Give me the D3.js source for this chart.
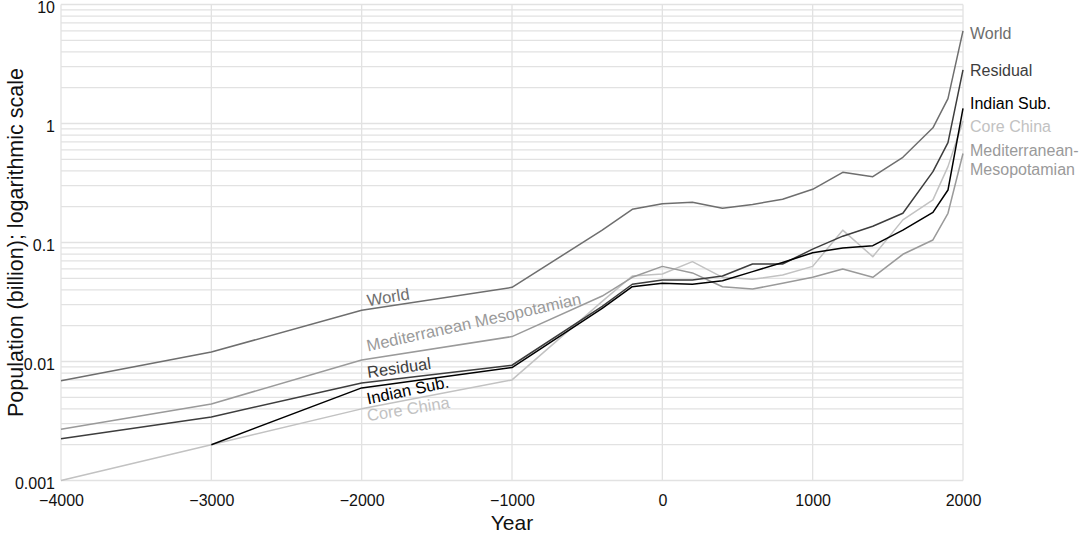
<!DOCTYPE html>
<html>
<head>
<meta charset="utf-8">
<script src="https://cdn.jsdelivr.net/npm/d3@7/dist/d3.min.js"></script>
<style>
  html, body { margin: 0; padding: 0; background: #fff; }
  svg { display: block; }
  text { font-family: "Liberation Sans", Arial, Helvetica, sans-serif; }
</style>
</head>
<body>
<svg id="chart" width="1081" height="533"></svg>
<script>
// ---- data ----
const years = [-4000, -3000, -2000, -1000, -400, -200, 0, 200, 400, 600, 800, 1000, 1200, 1400, 1600, 1800, 1900, 2000];
const world    = [0.0069, 0.012, 0.027, 0.042, 0.127, 0.19, 0.212, 0.218, 0.194, 0.209, 0.231, 0.28, 0.389, 0.357, 0.52, 0.92, 1.62, 6.0];
const medit    = [0.0027, 0.0044, 0.0103, 0.0162, 0.0355, 0.051, 0.063, 0.0555, 0.0425, 0.0406, 0.0454, 0.051, 0.0598, 0.051, 0.0796, 0.105, 0.176, 0.56];
const residual = [0.00224, 0.00342, 0.0066, 0.0093, 0.029, 0.0446, 0.0485, 0.0485, 0.0523, 0.066, 0.066, 0.088, 0.113, 0.137, 0.176, 0.394, 0.69, 2.82];
const indian   = [null, 0.002, 0.006, 0.0089, 0.028, 0.0425, 0.0454, 0.0446, 0.0477, 0.0569, 0.068, 0.082, 0.090, 0.094, 0.127, 0.179, 0.276, 1.34];
const china    = [0.001, 0.002, 0.004, 0.007, 0.032, 0.0523, 0.0543, 0.069, 0.051, 0.049, 0.0533, 0.063, 0.127, 0.076, 0.155, 0.228, 0.434, 1.05];

const seriesNames = ["Core China", "Mediterranean-Mesopotamian", "Residual", "Indian Sub.", "World"];
const xTicks = [-4000, -3000, -2000, -1000, 0, 1000, 2000];
const xTickLabels = ["\u22124000", "\u22123000", "\u22122000", "\u22121000", "0", "1000", "2000"];
const yTicks = [0.001, 0.01, 0.1, 1, 10];
const yTickLabels = ["0.001", "0.01", "0.1", "1", "10"];

// ---- setup ----
const svg = d3.select("#chart");
const x = d3.scaleLinear().domain([-4000, 2000]).range([61, 963]);
const y = d3.scaleLog().domain([0.001, 10]).range([480.5, 4.5]);

const gridColor = "#e2e2e2";
const grid = svg.append("g");
const hvals = [];
for (let e = -3; e <= 1; e++) {
  for (let m = 1; m <= 9; m++) {
    const v = m * Math.pow(10, e);
    if (v <= 10.0001) hvals.push(v);
  }
}
grid.selectAll("line.h").data(hvals).enter().append("line")
  .attr("x1", x(-4000)).attr("x2", x(2000))
  .attr("y1", d => y(d)).attr("y2", d => y(d))
  .attr("stroke", gridColor).attr("stroke-width", 1.3);
grid.selectAll("line.v").data(xTicks).enter().append("line")
  .attr("x1", d => x(d)).attr("x2", d => x(d))
  .attr("y1", y(10)).attr("y2", y(0.001))
  .attr("stroke", gridColor).attr("stroke-width", 1.3);

// axes
const xAxis = d3.axisBottom(x).tickValues(xTicks).tickSize(0).tickPadding(14)
  .tickFormat((d, i) => xTickLabels[i]);
const gx = svg.append("g").attr("transform", `translate(0,${y(0.001)})`).call(xAxis);
gx.select(".domain").remove();
gx.selectAll("text").attr("font-size", 16).attr("fill", "#111")
  .attr("font-family", '"Liberation Sans", Arial, sans-serif');

const yAxis = d3.axisLeft(y).tickValues(yTicks).tickSize(0).tickPadding(6)
  .tickFormat((d, i) => yTickLabels[i]);
const gy = svg.append("g").attr("transform", `translate(${x(-4000)},0)`).call(yAxis);
gy.select(".domain").remove();
gy.selectAll("text").attr("font-size", 16).attr("fill", "#111")
  .attr("dy", "0.5em")
  .attr("font-family", '"Liberation Sans", Arial, sans-serif');

// titles
svg.append("text").attr("x", (x(-4000) + x(2000)) / 2).attr("y", 530)
  .attr("text-anchor", "middle").attr("font-size", 21).attr("fill", "#111").text("Year");
svg.append("text").attr("transform", `translate(23,${(y(10) + y(0.001)) / 2}) rotate(-90)`)
  .attr("text-anchor", "middle").attr("font-size", 21.5).attr("fill", "#111")
  .text("Population (billion); logarithmic scale");

// ---- series ----
const seriesVals = [china, medit, residual, indian, world];
const colors = ["#c2c2c2", "#9a9a9a", "#3d3d3d", "#000000", "#6e6e6e"];
const line = d3.line()
  .defined(d => d.v != null)
  .x(d => x(d.year)).y(d => y(d.v));

seriesVals.forEach((vals, k) => {
  const pts = years.map((yr, i) => ({ year: yr, v: vals[i] }));
  svg.append("path").datum(pts)
    .attr("d", line).attr("fill", "none")
    .attr("stroke", colors[k]).attr("stroke-width", 1.5)
    .attr("stroke-linejoin", "round");
});

// inline labels (near -2000), placement in code
const inline = [
  { k: 4, text: "World", dy: -4, angle: -9.3 },
  { k: 1, text: "Mediterranean Mesopotamian", dy: -8.5, angle: -12.5 },
  { k: 2, text: "Residual", dy: -5, angle: -8.2 },
  { k: 3, text: "Indian Sub.", dy: 16.5, angle: -11.9 },
  { k: 0, text: "Core China", dy: 12.5, angle: -9.4 }
];
const iM2000 = years.indexOf(-2000);
inline.forEach(l => {
  const px = x(-1958);
  const py = y(seriesVals[l.k][iM2000]) + l.dy;
  svg.append("text")
    .attr("transform", `translate(${px},${py}) rotate(${l.angle})`)
    .attr("font-size", 16.5).attr("fill", colors[l.k]).text(l.text);
});

// right-end labels
const last = years.length - 1;
const endLabels = [
  { k: 4, lines: ["World"], dy: 2 },
  { k: 2, lines: ["Residual"], dy: 0 },
  { k: 3, lines: ["Indian Sub."], dy: -5 },
  { k: 0, lines: ["Core China"], dy: 5 },
  { k: 1, lines: ["Mediterranean-", "Mesopotamian"], dy: -3.5 }
];
endLabels.forEach(l => {
  const py = y(seriesVals[l.k][last]) + l.dy;
  const t = svg.append("text").attr("x", x(2000) + 7).attr("y", py)
    .attr("font-size", 16).attr("fill", colors[l.k]);
  l.lines.forEach((s, i) => {
    t.append("tspan").attr("x", x(2000) + 7).attr("dy", i === 0 ? "0.35em" : "1.2em").text(s);
  });
});
</script>
</body>
</html>
